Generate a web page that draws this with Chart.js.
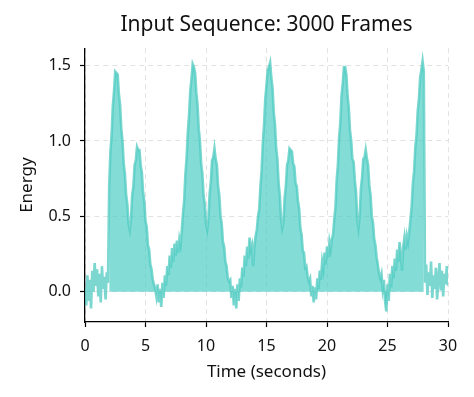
<!DOCTYPE html>
<html>
<head>
<meta charset="utf-8">
<script src="https://cdn.jsdelivr.net/npm/chart.js@4/dist/chart.umd.min.js"></script>
<style>
  html, body { margin: 0; padding: 0; background: #fff; }
  canvas { display: block; }
</style>
</head>
<body>
<canvas id="energyChart" width="474" height="397"></canvas>
<script>
// sample spacing of the read-off values (seconds)
const timeStep = 0.1;

// energy, one row per second (0.0 .. 30.0 s)
const energy = [
  0.03, -0.09, 0.11, -0.06, 0.08, -0.11, 0.14, 0.00, 0.19, 0.04,   // 0
  0.15, -0.03, 0.12, -0.07, 0.17, 0.02, 0.10, -0.05, 0.13, 0.06,   // 1
  0.70, 0.93, 1.04, 1.23, 1.33, 1.46, 1.45, 1.44, 1.31, 1.24,      // 2
  1.08, 1.00, 0.85, 0.78, 0.64, 0.58, 0.45, 0.41, 0.48, 0.64,      // 3
  0.70, 0.84, 0.87, 0.96, 0.94, 0.94, 0.84, 0.79, 0.66, 0.60,      // 4
  0.47, 0.43, 0.31, 0.28, 0.18, 0.15, 0.08, 0.05, 0.02, -0.03,     // 5
  0.05, -0.07, 0.02, -0.10, 0.06, -0.04, 0.11, 0.04, 0.17, 0.11,   // 6
  0.24, 0.16, 0.29, 0.20, 0.32, 0.24, 0.34, 0.26, 0.35, 0.31,      // 7
  0.40, 0.52, 0.61, 0.78, 0.89, 1.06, 1.17, 1.33, 1.41, 1.51,      // 8
  1.49, 1.45, 1.32, 1.24, 1.08, 1.00, 0.85, 0.78, 0.64, 0.58,      // 9
  0.45, 0.41, 0.48, 0.65, 0.73, 0.87, 0.89, 0.95, 0.88, 0.84,      // 10
  0.70, 0.64, 0.50, 0.45, 0.33, 0.30, 0.20, 0.17, 0.09, 0.07,      // 11
  0.08, -0.04, 0.04, -0.09, 0.02, -0.11, 0.05, -0.06, 0.09, 0.03,  // 12
  0.16, 0.10, 0.24, 0.17, 0.30, 0.22, 0.36, 0.28, 0.31, 0.17,      // 13
  0.30, 0.37, 0.41, 0.50, 0.55, 0.70, 0.81, 0.99, 1.11, 1.28,      // 14
  1.37, 1.47, 1.49, 1.52, 1.42, 1.35, 1.19, 1.11, 0.95, 0.88,      // 15
  0.72, 0.64, 0.48, 0.42, 0.46, 0.62, 0.70, 0.84, 0.87, 0.95,      // 16
  0.94, 0.93, 0.85, 0.83, 0.72, 0.70, 0.60, 0.55, 0.42, 0.38,      // 17
  0.27, 0.26, 0.16, 0.17, 0.10, 0.07, 0.09, -0.03, 0.04, -0.07,    // 18
  0.03, -0.05, 0.09, 0.02, 0.14, 0.08, 0.20, 0.15, 0.26, 0.18,     // 19
  0.30, 0.23, 0.33, 0.28, 0.35, 0.38, 0.48, 0.56, 0.74, 0.84,      // 20
  1.02, 1.12, 1.30, 1.38, 1.49, 1.49, 1.44, 1.30, 1.22, 1.07,      // 21
  1.00, 0.88, 0.86, 0.74, 0.66, 0.48, 0.42, 0.50, 0.68, 0.76,      // 22
  0.88, 0.89, 0.94, 0.88, 0.84, 0.70, 0.64, 0.50, 0.46, 0.35,      // 23
  0.31, 0.23, 0.18, 0.12, 0.09, 0.12, 0.02, 0.08, -0.06, -0.13,    // 24
  0.05, -0.06, 0.12, 0.03, 0.17, 0.09, 0.22, 0.14, 0.28, 0.20,     // 25
  0.33, 0.24, 0.14, 0.30, 0.36, 0.28, 0.37, 0.33, 0.40, 0.48,      // 26
  0.57, 0.72, 0.80, 0.96, 1.04, 1.20, 1.28, 1.42, 1.47, 1.53,      // 27
  1.46, 0.06, 0.18, -0.02, 0.13, 0.04, 0.20, -0.04, 0.11, 0.02,    // 28
  0.16, -0.05, 0.09, 0.19, 0.01, 0.14, -0.03, 0.12, 0.05, 0.17,    // 29
  0.04                                                             // 30
];

// shaded stretch of the sequence (seconds)
const activeStart = 2.0;
const activeEnd = 28.0;

const xTicks = [0, 5, 10, 15, 20, 25, 30];
const yTicks = [0.0, 0.5, 1.0, 1.5];

const points = energy.map((v, i) => ({ x: +(i * timeStep).toFixed(1), y: v }));
const activePoints = points.filter(p => p.x >= activeStart && p.x <= activeEnd);

Chart.defaults.font.family = '"Noto Sans", "DejaVu Sans", sans-serif';
Chart.defaults.color = '#222';

const axisGrid = {
  color: '#e2e2e2',
  lineWidth: 1,
  tickColor: '#000',
  tickLength: 5,
  tickWidth: 1.2,
  tickBorderDash: []
};
const axisBorder = { color: '#000', width: 1.3, dash: [5, 4] };

new Chart(document.getElementById('energyChart'), {
  type: 'line',
  data: {
    datasets: [
      {
        label: 'active',
        data: activePoints,
        fill: 'origin',
        backgroundColor: 'rgba(78, 205, 196, 0.7)',
        borderWidth: 0,
        pointRadius: 0,
        tension: 0
      },
      {
        label: 'energy',
        data: points,
        fill: false,
        borderColor: 'rgba(72, 200, 188, 0.72)',
        borderWidth: 2.6,
        pointRadius: 0,
        tension: 0
      }
    ]
  },
  options: {
    responsive: false,
    animation: false,
    devicePixelRatio: 1,
    layout: { padding: { left: 0, right: 26, top: 0, bottom: 0 } },
    plugins: {
      legend: { display: false },
      tooltip: { enabled: false },
      title: {
        display: true,
        text: 'Input Sequence: 3000 Frames',
        fullSize: false,
        color: '#111',
        font: { size: 21, weight: 'normal' },
        padding: { top: 12, bottom: 11 }
      }
    },
    scales: {
      x: {
        type: 'linear',
        min: 0,
        max: 30,
        afterBuildTicks: s => { s.ticks = xTicks.map(v => ({ value: v })); },
        afterFit: s => { s.height = 75; },
        ticks: { font: { size: 16 }, color: '#111', padding: 10, maxRotation: 0 },
        grid: axisGrid,
        border: axisBorder,
        title: {
          display: true,
          text: 'Time (seconds)',
          color: '#111',
          font: { size: 17 },
          padding: { top: 0, bottom: 15 }
        }
      },
      y: {
        type: 'linear',
        min: -0.2,
        max: 1.615,
        afterBuildTicks: s => { s.ticks = yTicks.map(v => ({ value: v })); },
        afterFit: s => { s.width = 85; },
        ticks: { font: { size: 16 }, color: '#111', padding: 9, callback: v => v.toFixed(1) },
        grid: axisGrid,
        border: axisBorder,
        title: {
          display: true,
          text: 'Energy',
          color: '#111',
          font: { size: 17 },
          padding: { top: 17, bottom: 0 }
        }
      }
    }
  }
});
</script>
</body>
</html>
